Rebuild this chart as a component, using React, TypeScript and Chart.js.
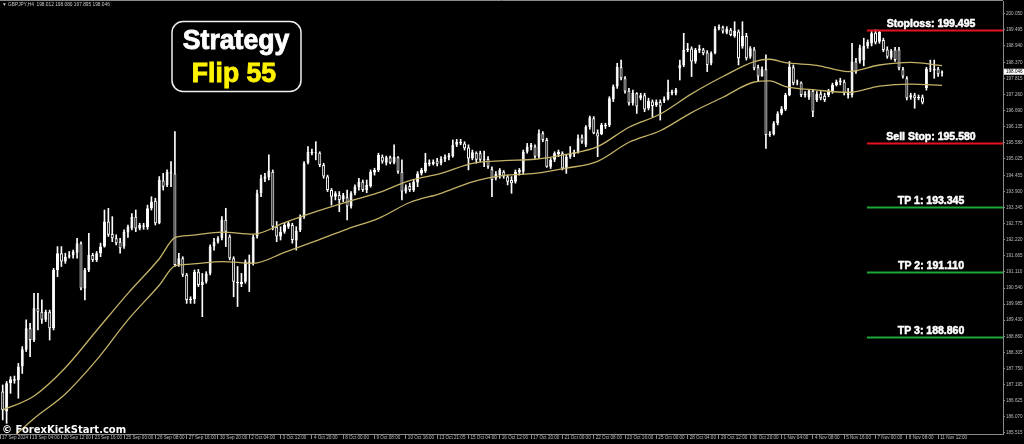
import React, { useEffect, useRef } from "react";
import { Chart, registerables } from "chart.js";
Chart.register(...registerables);

const headerText = "▼ GBPJPY,H4  198.012 198.080 197.895 198.046";

const opens = [
  186.95,186.26,187.24,187.38,187.35,187.82,188.40,189.15,188.74,189.84,
  189.72,189.44,189.72,189.15,191.17,191.75,191.46,191.63,191.68,191.77,
  192.10,190.53,191.17,191.69,191.52,191.75,191.98,192.85,192.42,192.27,
  192.15,191.98,192.47,192.61,193.02,192.61,192.71,192.65,193.31,193.57,
  192.79,194.27,194.12,194.56,194.52,191.34,191.58,191.00,190.13,190.16,
  191.11,190.65,190.76,191.05,191.98,192.15,192.27,192.91,192.33,191.58,
  190.76,190.68,190.76,191.46,191.40,192.33,193.83,194.33,194.39,194.58,
  192.67,192.33,192.50,192.67,192.73,192.19,192.56,193.02,194.89,195.27,
  195.22,195.24,194.81,194.41,193.94,193.71,193.77,193.62,193.69,193.37,
  193.83,194.04,194.23,193.94,194.08,194.55,194.64,195.10,194.89,195.08,
  194.89,195.08,194.58,193.89,194.08,193.94,194.20,194.52,194.60,194.90,
  194.85,194.96,194.87,195.01,195.08,195.12,195.51,195.61,195.56,195.42,
  195.04,195.24,195.22,194.99,195.02,194.66,194.35,194.46,194.58,194.41,
  194.29,194.23,194.55,194.58,195.27,195.43,195.45,195.10,195.91,195.68,
  194.75,194.99,195.18,195.22,194.69,195.10,195.18,195.27,195.77,195.51,
  196.12,196.43,195.94,195.89,196.16,196.20,197.10,197.53,198.20,197.82,
  197.39,196.95,197.30,197.13,197.23,196.78,197.01,196.89,197.00,197.04,
  197.11,197.36,197.30,198.16,198.28,198.80,198.85,198.40,198.78,198.82,
  198.71,198.34,198.69,199.55,199.59,199.40,199.50,199.29,199.44,198.92,
  199.29,198.57,198.82,198.20,197.90,198.13,195.85,195.89,196.26,196.60,
  196.74,197.24,198.20,197.67,197.67,197.24,197.16,197.39,197.07,197.28,
  197.21,197.24,197.36,197.59,197.69,197.70,197.30,197.24,198.40,198.40,
  198.45,198.94,199.03,199.40,199.09,199.15,198.82,198.53,198.82,198.82,
  198.13,197.82,197.16,197.23,197.13,197.16,197.47,198.15,198.09,198.15,
  198.012
];

const highs = [
  187.18,187.30,187.47,187.49,187.93,188.51,189.44,189.32,190.36,190.36,
  190.13,189.78,189.78,191.23,191.98,191.98,191.75,191.81,191.86,192.27,
  192.15,191.23,192.44,191.75,191.81,192.10,193.25,193.31,193.02,192.39,
  192.27,192.56,192.73,193.13,193.25,192.79,192.79,193.42,193.71,193.66,
  194.41,194.52,194.64,194.93,195.97,191.75,191.63,191.05,190.24,191.17,
  191.19,191.05,191.11,192.04,192.27,192.33,193.02,193.31,192.39,191.63,
  191.29,191.05,191.52,191.69,192.39,193.94,194.46,194.52,195.16,194.64,
  192.85,192.67,192.79,192.85,192.79,192.67,193.08,194.93,195.45,195.36,
  195.62,195.27,194.87,194.46,194.00,193.89,193.89,193.83,193.94,193.89,
  194.12,194.35,194.29,194.29,194.64,194.70,195.22,195.16,195.12,195.12,
  195.51,195.10,194.99,194.12,194.18,194.29,194.58,194.70,195.22,194.99,
  194.99,195.04,195.10,195.16,195.22,195.68,195.70,195.70,195.62,195.51,
  195.33,195.27,195.29,195.29,195.10,194.75,194.58,194.69,194.62,194.46,
  194.41,194.64,194.69,195.33,195.56,195.56,195.51,196.03,195.97,195.74,
  195.04,195.27,195.33,195.27,195.16,195.45,195.33,195.86,195.86,196.18,
  196.51,196.49,196.03,196.26,196.26,197.18,197.59,198.34,198.45,197.88,
  197.47,197.41,197.32,197.30,197.30,197.13,197.07,197.07,197.07,197.18,
  197.76,197.41,197.47,198.45,199.38,199.03,198.91,198.86,198.97,198.86,
  198.78,198.74,199.61,199.67,199.63,199.61,199.55,199.78,199.50,199.78,
  199.38,198.92,198.89,198.28,198.22,198.63,195.97,196.32,196.66,196.84,
  197.30,198.40,198.28,197.76,197.70,197.36,197.44,197.44,197.36,197.36,
  197.30,197.44,197.65,197.76,197.82,197.76,197.47,199.03,198.51,198.97,
  199.21,199.15,199.44,199.50,199.47,199.21,198.91,198.82,198.89,198.89,
  198.20,197.88,197.30,197.30,197.24,197.24,198.20,198.45,198.45,198.20,
  198.080
];

const lows = [
  185.97,185.85,186.89,187.24,186.72,187.58,188.34,188.16,188.68,189.09,
  189.32,189.38,188.74,189.09,190.94,191.29,191.40,191.58,191.58,191.58,
  190.48,190.13,191.11,191.46,191.46,191.63,191.96,192.33,192.15,192.04,
  191.75,191.92,192.30,192.56,192.50,192.56,192.58,192.58,193.25,192.73,
  192.77,193.94,194.06,194.06,191.29,191.29,190.94,190.01,190.01,190.01,
  190.59,189.55,190.71,191.00,191.86,192.10,192.21,191.98,191.52,190.24,
  189.90,190.59,190.71,190.42,191.34,192.27,193.71,194.23,194.29,192.56,
  192.15,192.21,192.44,192.61,192.10,191.86,192.50,192.96,194.85,195.16,
  194.99,194.75,194.35,193.89,193.42,193.60,193.19,193.54,192.91,193.31,
  193.77,193.94,193.89,193.85,194.04,194.46,194.58,194.87,194.81,194.85,
  194.85,194.52,193.60,193.83,193.89,193.89,194.06,194.46,194.55,194.78,
  194.81,194.78,194.81,194.93,194.99,195.08,195.45,195.51,195.33,194.64,
  194.99,194.87,194.93,194.75,194.69,193.71,194.29,194.35,194.35,194.12,
  193.83,194.18,194.46,194.50,195.22,195.33,195.04,195.04,195.62,194.73,
  194.69,194.93,195.10,194.64,194.52,195.04,195.10,195.22,195.56,195.45,
  196.05,195.89,195.10,195.86,196.08,196.14,197.01,197.47,197.76,197.30,
  196.89,196.89,196.60,197.07,196.66,196.72,196.49,196.84,196.37,196.97,
  197.07,197.24,197.24,197.76,198.22,198.74,197.88,198.34,198.71,198.63,
  198.05,198.28,198.66,199.50,199.38,199.36,199.29,199.24,198.28,198.86,
  198.45,198.51,198.11,197.70,197.88,195.39,195.80,195.85,196.20,196.55,
  196.70,197.21,197.59,197.59,197.18,197.16,197.09,196.49,197.01,197.07,
  197.01,197.18,197.30,197.55,197.59,197.24,197.13,197.16,197.99,198.34,
  198.25,198.86,198.94,199.01,199.03,198.74,198.51,198.48,198.40,198.11,
  197.82,197.07,197.09,196.78,197.07,196.93,197.41,198.05,197.82,197.88,
  197.895
];

const closes = [
  186.31,187.24,187.38,187.33,187.82,188.42,189.15,188.74,189.84,189.72,
  189.44,189.72,189.15,191.17,191.75,191.46,191.63,191.68,191.81,192.10,
  190.53,191.17,191.69,191.52,191.75,191.98,192.85,192.39,192.27,192.10,
  191.92,192.50,192.67,193.02,192.61,192.73,192.67,193.31,193.54,192.79,
  194.29,194.06,194.58,194.52,191.34,191.58,191.00,190.13,190.16,191.11,
  190.65,190.76,191.05,191.98,192.15,192.27,192.91,192.50,191.58,190.76,
  190.71,190.76,191.46,191.42,192.33,193.83,194.35,194.41,194.62,192.67,
  192.33,192.50,192.73,192.79,192.21,192.53,193.02,194.87,195.27,195.22,
  195.25,194.81,194.41,193.94,193.71,193.83,193.60,193.76,193.37,193.83,
  194.06,194.23,193.94,194.12,194.58,194.64,195.16,194.93,195.08,194.89,
  195.10,194.58,193.89,194.04,193.94,194.23,194.52,194.64,194.90,194.84,
  194.92,194.84,195.02,195.09,195.15,195.51,195.61,195.56,195.39,195.04,
  195.25,194.99,194.99,195.02,194.75,194.29,194.50,194.64,194.41,194.23,
  194.18,194.58,194.64,195.27,195.45,195.51,195.10,195.91,195.68,194.75,
  194.99,195.22,195.26,194.69,195.10,195.19,195.27,195.74,195.62,196.14,
  196.47,195.91,195.80,196.20,196.20,197.13,197.53,198.22,197.82,197.36,
  196.95,197.32,196.84,197.23,196.74,197.04,196.86,197.00,196.84,197.11,
  197.34,197.30,197.41,198.28,198.80,198.85,198.40,198.80,198.85,198.69,
  198.28,198.69,199.55,199.60,199.44,199.53,199.32,199.47,198.51,199.29,
  198.51,198.86,198.17,197.88,198.13,195.85,195.89,196.26,196.60,196.76,
  197.24,198.22,197.65,197.70,197.24,197.28,197.39,196.66,197.28,197.13,
  197.07,197.39,197.59,197.69,197.74,197.30,197.24,198.40,198.05,198.89,
  198.94,199.08,199.38,199.06,199.43,198.80,198.57,198.78,198.45,198.17,
  197.88,197.13,197.23,197.13,197.17,196.98,198.15,198.12,198.15,197.96,
  198.046
];

const maIdx = [0,8,16,24,32,40,44,48,56,64,72,80,88,96,104,112,120,128,136,144,152,160,168,176,184,192,196,200,208,216,224,232,240];
const maUpper = [186.31,186.80,187.78,189.07,190.36,191.56,192.29,192.37,192.48,192.41,192.81,193.19,193.53,193.85,194.27,194.52,194.87,194.96,195.01,195.18,195.45,196.12,196.58,197.28,197.88,198.40,198.48,198.36,198.27,198.05,198.28,198.37,198.26];
const maLower = [185.04,186.02,186.87,188.05,189.44,190.64,191.31,191.37,191.46,191.40,191.78,192.18,192.59,192.96,193.51,193.83,194.23,194.45,194.52,194.70,194.94,195.60,196.00,196.63,197.16,197.69,197.73,197.53,197.41,197.33,197.55,197.62,197.57];

const xLabels = ["17 Sep 2024","19 Sep 04:00","20 Sep 12:00","23 Sep 16:00","25 Sep 00:00","26 Sep 08:00","27 Sep 16:00","30 Sep 20:00","2 Oct 04:00","3 Oct 12:00","4 Oct 20:00","8 Oct 00:00","9 Oct 08:00","10 Oct 16:00","13 Oct 21:05","15 Oct 04:00","16 Oct 12:00","17 Oct 20:00","21 Oct 00:00","22 Oct 08:00","23 Oct 16:00","25 Oct 00:00","28 Oct 04:00","29 Oct 12:00","30 Oct 20:00","1 Nov 04:00","4 Nov 08:00","5 Nov 16:00","7 Nov 00:00","8 Nov 08:00","11 Nov 12:00"];
const xTickIdx = [-0.69,7,15,23,31,39,47,55,63,71,79,87,95,103,111,119,127,135,143,151,159,167,175,183,191,199,207,215,223,231,239];

const yTicks = [200.050,199.495,198.940,198.370,197.815,197.260,196.690,196.135,195.580,195.025,194.455,193.900,193.345,192.775,192.220,191.665,191.110,190.540,189.985,189.430,188.860,188.305,187.750,187.195,186.625,186.070,185.515];

const levelNames = ["Stoploss", "Sell Stop", "TP 1", "TP 2", "TP 3"];
const levelValues = [199.495, 195.580, 193.345, 191.110, 188.860];
const levelColors = ["#e3141f", "#e3141f", "#1fa83a", "#1fa83a", "#1fa83a"];
const levelStartIdx = 220.8;

const titleLine1 = "Strategy";
const titleLine2 = "Flip 55";
const watermark = "© ForexKickStart.com";

const X_MIN = -0.69;
const X_MAX = 255.57;
const Y_MIN = 185.48;
const Y_MAX = 200.50;

const AX_FONT = "'Liberation Sans', Arial, sans-serif";

export default function App() {
  const ref = useRef<HTMLCanvasElement>(null);

  useEffect(() => {
    const bodyData = opens.map((o, i) => ({ x: i, y: [o, closes[i]] }));
    const wickData = lows.map((l, i) => ({ x: i, y: [l, highs[i]] }));
    const bodyFill = opens.map((o, i) => (closes[i] >= o ? "#ffffff" : "#000000"));

    const overlay = {
      id: "overlay",
      beforeDraw(chart: any) {
        const { ctx, width, height } = chart;
        ctx.save();
        ctx.fillStyle = "#000";
        ctx.fillRect(0, 0, width, height);
        ctx.restore();
      },
      afterDraw(chart: any) {
        const { ctx, chartArea, scales } = chart;
        const xs = scales.x;
        const ys = scales.y;
        ctx.save();
        // top frame line
        ctx.strokeStyle = "#8a8a8a";
        ctx.lineWidth = 1;
        ctx.beginPath();
        ctx.moveTo(0, 0.5);
        ctx.lineTo(chartArea.right, 0.5);
        ctx.stroke();

        // header
        ctx.fillStyle = "#c8c8c8";
        ctx.font = `4.8px ${AX_FONT}`;
        ctx.textAlign = "left";
        ctx.textBaseline = "middle";
        ctx.fillText(headerText, 2, 5);

        // level lines
        const x0 = xs.getPixelForValue(levelStartIdx);
        levelNames.forEach((name, i) => {
          const py = Math.round(ys.getPixelForValue(levelValues[i]));
          ctx.fillStyle = levelColors[i];
          ctx.fillRect(x0, py - 0.5, chartArea.right - x0, 2);
          ctx.font = `bold 10.5px ${AX_FONT}`;
          ctx.fillStyle = "#ffffff";
          ctx.strokeStyle = "#ffffff";
          ctx.lineWidth = 0.5;
          ctx.textAlign = "center";
          ctx.textBaseline = "alphabetic";
          const t = `${name}: ${levelValues[i].toFixed(3)}`;
          ctx.fillText(t, 931, py - 3);
          ctx.strokeText(t, 931, py - 3);
        });

        // current price label
        const cp = closes[closes.length - 1];
        const cpy = ys.getPixelForValue(cp);
        ctx.fillStyle = "#ffffff";
        ctx.fillRect(chartArea.right + 1, cpy - 3, 22, 6);
        ctx.fillStyle = "#000000";
        ctx.font = `4.6px ${AX_FONT}`;
        ctx.textAlign = "left";
        ctx.textBaseline = "middle";
        ctx.fillText(cp.toFixed(3), chartArea.right + 3, cpy);

        // title box
        ctx.beginPath();
        ctx.roundRect(172, 21.5, 129, 70, 11);
        ctx.fillStyle = "#000";
        ctx.fill();
        ctx.strokeStyle = "#f0f0f0";
        ctx.lineWidth = 1.5;
        ctx.stroke();
        ctx.textAlign = "center";
        ctx.textBaseline = "alphabetic";
        ctx.font = `bold 28px ${AX_FONT}`;
        ctx.save();
        ctx.translate(236, 48.5);
        ctx.scale(0.95, 1);
        ctx.fillStyle = "#ffffff";
        ctx.strokeStyle = "#ffffff";
        ctx.lineWidth = 0.9;
        ctx.fillText(titleLine1, 0, 0);
        ctx.strokeText(titleLine1, 0, 0);
        ctx.restore();
        ctx.save();
        ctx.translate(234, 81.5);
        ctx.scale(0.95, 1);
        ctx.fillStyle = "#fff200";
        ctx.strokeStyle = "#fff200";
        ctx.lineWidth = 0.9;
        ctx.fillText(titleLine2, 0, 0);
        ctx.strokeText(titleLine2, 0, 0);
        ctx.restore();

        // watermark
        ctx.font = "bold 10px 'DejaVu Sans', Verdana, sans-serif";
        ctx.textAlign = "left";
        ctx.textBaseline = "alphabetic";
        ctx.fillStyle = "#ffffff";
        ctx.fillText(watermark, 2, 432.5);
        ctx.restore();
      },
    };

    const chart = new Chart(ref.current as HTMLCanvasElement, {
      type: "bar",
      data: {
        datasets: [
          {
            type: "line",
            data: maIdx.map((x, i) => ({ x, y: maUpper[i] })),
            borderColor: "#c4b266",
            borderWidth: 1.3,
            pointRadius: 0,
            cubicInterpolationMode: "monotone",
            order: 0,
          } as any,
          {
            type: "line",
            data: maIdx.map((x, i) => ({ x, y: maLower[i] })),
            borderColor: "#c4b266",
            borderWidth: 1.3,
            pointRadius: 0,
            cubicInterpolationMode: "monotone",
            order: 0,
          } as any,
          {
            type: "bar",
            data: bodyData,
            backgroundColor: bodyFill,
            borderColor: "#ffffff",
            borderWidth: 1,
            borderSkipped: false,
            grouped: false,
            barPercentage: 1,
            categoryPercentage: 0.8,
            maxBarThickness: 3,
            minBarLength: 1,
            order: 1,
          } as any,
          {
            type: "bar",
            data: wickData,
            backgroundColor: "#ffffff",
            borderWidth: 0,
            grouped: false,
            barPercentage: 1,
            categoryPercentage: 1,
            maxBarThickness: 1,
            minBarLength: 1,
            order: 2,
          } as any,
        ],
      },
      options: {
        responsive: false,
        animation: false,
        devicePixelRatio: 1,
        events: [],
        layout: { padding: { top: 1, left: 0, right: 0, bottom: 0 } },
        plugins: { legend: { display: false }, tooltip: { enabled: false } },
        scales: {
          x: {
            type: "linear",
            min: X_MIN,
            max: X_MAX,
            offset: false,
            grid: { display: true, offset: false, drawOnChartArea: false, drawTicks: true, tickLength: 5, color: "#8a8a8a" },
            border: { display: true, color: "#8a8a8a" },
            ticks: {
              autoSkip: false,
              maxRotation: 0,
              minRotation: 0,
              align: "start",
              padding: -4,
              labelOffset: 2,
              color: "#bdbdbd",
              font: { family: AX_FONT, size: 4.6 },
              callback: (_v: any, i: number) => xLabels[i],
            },
            afterBuildTicks: (s: any) => {
              s.ticks = xTickIdx.map((v) => ({ value: v }));
            },
            afterFit: (s: any) => {
              s.height = 10;
              s.paddingLeft = 0;
              s.paddingRight = 0;
            },
          } as any,
          y: {
            type: "linear",
            position: "right",
            min: Y_MIN,
            max: Y_MAX,
            grid: { display: true, drawOnChartArea: false, drawTicks: true, tickLength: 2, color: "#8a8a8a" },
            border: { display: true, color: "#8a8a8a" },
            ticks: {
              autoSkip: false,
              padding: 1,
              color: "#bdbdbd",
              font: { family: AX_FONT, size: 4.6 },
              callback: (v: any) => Number(v).toFixed(3),
            },
            afterBuildTicks: (s: any) => {
              s.ticks = yTicks.map((v) => ({ value: v }));
            },
            afterFit: (s: any) => {
              s.width = 21;
              s.paddingTop = 0;
              s.paddingBottom = 0;
            },
          } as any,
        },
      },
      plugins: [overlay],
    } as any);

    return () => chart.destroy();
  }, []);

  return (
    <div style={{ position: "fixed", left: 0, top: 0, width: 1024, height: 444, background: "#000" }}>
      <canvas ref={ref} width={1024} height={444} style={{ display: "block" }} />
    </div>
  );
}
